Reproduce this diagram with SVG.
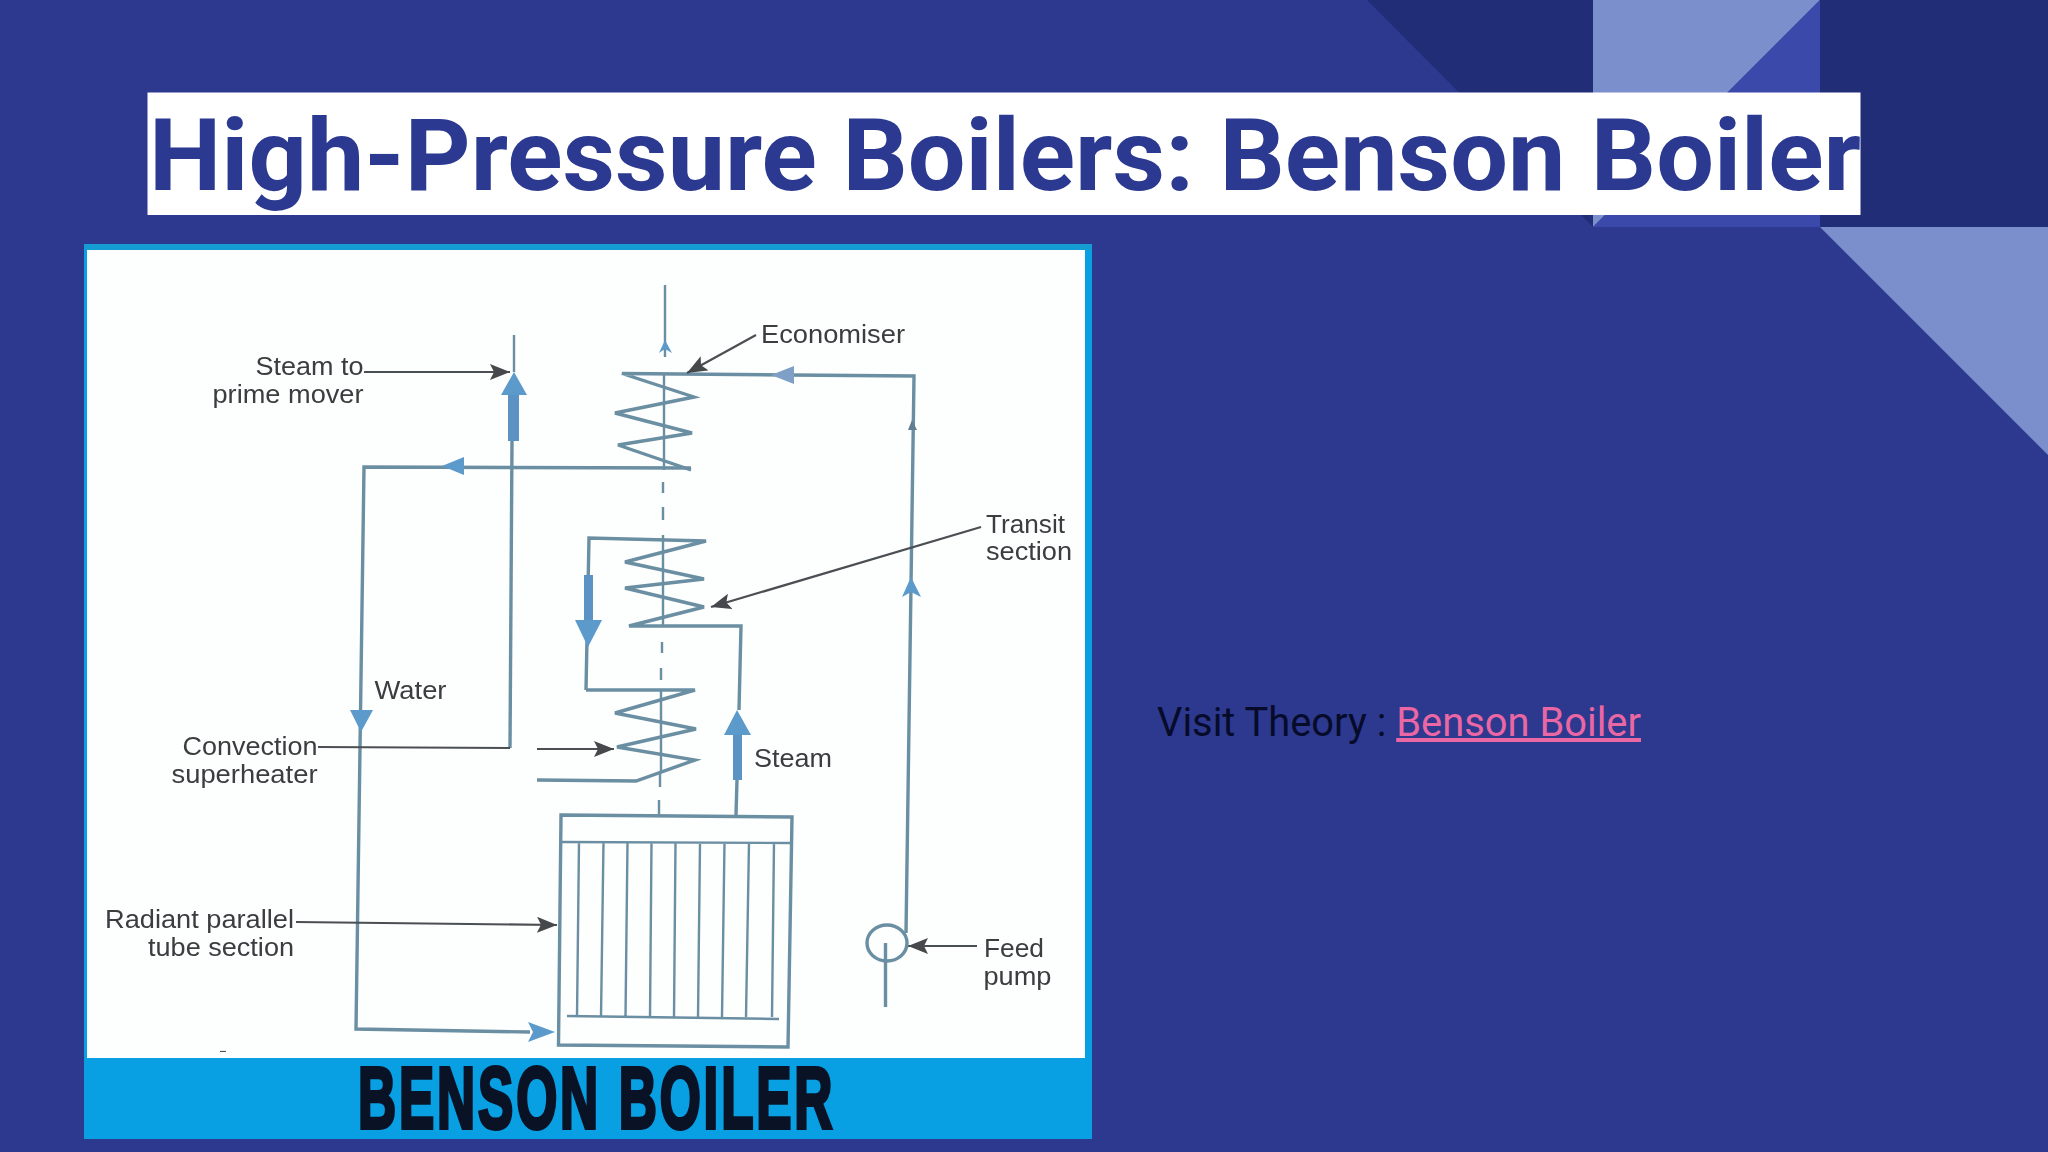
<svg xmlns="http://www.w3.org/2000/svg" width="2048" height="1152" viewBox="0 0 2048 1152">
<defs>
<style>
.pipe{fill:none;stroke:#6b8ea2;stroke-width:3.4;stroke-linejoin:miter}
.thin{fill:none;stroke:#6b8ea2;stroke-width:2.4}
.lead{fill:none;stroke:#4a4f52;stroke-width:2.2}
.blue{fill:#5b9acb;stroke:none}
.shaft{fill:#5a93c4;stroke:none}
.lab{font-family:"Liberation Sans",Arial,sans-serif;font-size:26px;fill:#3a3c3f}
.end{text-anchor:end}
</style>
<marker id="lh" markerUnits="userSpaceOnUse" markerWidth="24" markerHeight="18" refX="20" refY="8" orient="auto">
<path d="M0,0 L20,8 L0,16 L4,8 z" fill="#45494c"/>
</marker>
<filter id="soft" x="0" y="0" width="1" height="1"><feGaussianBlur stdDeviation="0.6"/></filter>
</defs>

<g id="background">
<rect width="2048" height="1152" fill="#2c398f"/>
<polygon points="1367,0 1593,0 1593,227" fill="#212e77"/>
<polygon points="1593,0 1820,0 1593,227" fill="#7a8fcb"/>
<polygon points="1820,0 1820,227 1593,227" fill="#3a49aa"/>
<rect x="1820" y="0" width="228" height="227" fill="#212e77"/>
<polygon points="1820,227 2048,227 2048,455" fill="#7a8fcb"/>
</g>

<g id="title">
<rect x="147.500" y="92.500" width="1713" height="122.500" fill="#ffffff"/>
<text x="149" y="189.500" textLength="1712" lengthAdjust="spacingAndGlyphs" style="font-family:Roboto,'Liberation Sans',sans-serif;font-weight:700;font-size:101px" fill="#2b3990">High-Pressure Boilers: Benson Boiler</text>
</g>

<g id="picture-frame">
<rect x="84" y="244" width="1008" height="895" fill="#08a0e3"/>
<rect x="84" y="244" width="1008" height="6" fill="#159cd2"/>
<rect x="87" y="250" width="998" height="808" fill="#fdfefe"/>
<text transform="translate(358,1128) scale(0.6,1)" style="font-family:'Liberation Sans',Arial,sans-serif;font-weight:700;font-size:88px;letter-spacing:4.8px" fill="#0a1226" stroke="#0a1226" stroke-width="4">BENSON BOILER</text>
</g>

<g filter="url(#soft)">
<g id="connectors">
<!-- centre line -->
<path class="thin" d="M665,285V357M664,373V470M663,482V493M663,507V520M663,535V626M662,642V653M661,668V680M661,690V772M660,773V787M659,800V815"/>
<polygon class="blue" points="665,340 672,353 665,349 659,353"/>
<!-- steam to prime mover -->
<path class="thin" d="M514,335V372"/>
<path class="pipe" d="M512,441L510,748"/>
<rect class="shaft" x="508" y="392" width="11" height="49"/>
<polygon class="blue" points="514,372 527,395 501,395"/>
<!-- economiser outflow to water downcomer to furnace -->
<path class="pipe" d="M691,470L618,445L692,433L615,413L694,397L622,373.500L914,376L906,933"/>
<path class="pipe" d="M691,468L364,467L356,1029L530,1032"/>
<polygon class="blue" points="442,466 464,457 464,475"/>
<polygon class="blue" points="361,732 350,710 373,710"/>
<polygon class="blue" points="555,1032 528,1022 533,1032 528,1042"/>
<polygon class="blue" points="771,375 794,366 794,384" style="fill:#7f9fc6"/>
<polygon class="blue" points="912,420 917,430 908,430" style="fill:#5f7f90"/>
<polygon class="blue" points="911,577 921,597 911,592 902,597"/>
<!-- transit section and steam line -->
<path class="pipe" d="M586,690L589,538L706,541L625,562L704,579L625,588L704,607L629,626L741,626L739,710"/>
<rect class="shaft" x="584" y="575" width="9" height="46"/>
<polygon class="blue" points="588,647 575,620 602,620"/>
<rect class="shaft" x="733" y="733" width="9" height="47"/>
<polygon class="blue" points="737,710 751,735 724,735"/>
<path class="pipe" d="M737,780L736,815"/>
<!-- convection superheater -->
<path class="pipe" d="M586,690L695,690L615,713L696,729L617,747L695,760L636,781L537,780"/>
<!-- feed pump -->
<path class="pipe" d="M885.500,943V1007"/>
<!-- leaders -->
<path class="lead" marker-end="url(#lh)" d="M364,372H510"/>
<path class="lead" marker-end="url(#lh)" d="M756,335L687,373"/>
<path class="lead" marker-end="url(#lh)" d="M981,527L711,607"/>
<path class="lead" d="M318,747L510,748"/>
<path class="lead" marker-end="url(#lh)" d="M537,749H614"/>
<path class="lead" marker-end="url(#lh)" d="M296,922L557,925"/>
<path class="lead" marker-end="url(#lh)" d="M977,946H908"/>
<path class="lead" d="M220,1052H226"/>
</g>

<g id="radiant-section">
<path class="pipe" d="M561,815L792,817L788,1047L558.500,1045Z"/>
<path class="thin" d="M562,842L791,843M567,1016L779,1019M579,842L577,1017M603.500,842L601,1017M627.500,842L625.500,1017M651.500,842L650,1017M675.500,842L674,1017M700,842L698,1017M724.500,842L722,1017M749,842L746,1017M774,842L772,1017"/>
</g>
<g id="feed-pump">
<ellipse cx="887" cy="943" rx="20" ry="18" class="pipe"/>
</g>

<g id="label-steam-to-prime-mover">
<text class="lab end" x="363.500" y="375" textLength="108" lengthAdjust="spacingAndGlyphs">Steam to</text>
<text class="lab end" x="363.500" y="403" textLength="151" lengthAdjust="spacingAndGlyphs">prime mover</text>
</g>
<g id="label-economiser"><text class="lab" x="761" y="343" textLength="144" lengthAdjust="spacingAndGlyphs">Economiser</text></g>
<g id="label-transit-section">
<text class="lab" x="986" y="533" textLength="79" lengthAdjust="spacingAndGlyphs">Transit</text>
<text class="lab" x="986" y="560" textLength="86" lengthAdjust="spacingAndGlyphs">section</text>
</g>
<g id="label-water"><text class="lab" x="374.500" y="699" textLength="72" lengthAdjust="spacingAndGlyphs">Water</text></g>
<g id="label-convection-superheater">
<text class="lab end" x="317.500" y="755" textLength="135" lengthAdjust="spacingAndGlyphs">Convection</text>
<text class="lab end" x="317.500" y="783" textLength="146" lengthAdjust="spacingAndGlyphs">superheater</text>
</g>
<g id="label-steam"><text class="lab" x="754" y="767" textLength="78" lengthAdjust="spacingAndGlyphs">Steam</text></g>
<g id="label-radiant">
<text class="lab end" x="294" y="928" textLength="189" lengthAdjust="spacingAndGlyphs">Radiant parallel</text>
<text class="lab end" x="294" y="956" textLength="146" lengthAdjust="spacingAndGlyphs">tube section</text>
</g>
<g id="label-feed-pump">
<text class="lab" x="984" y="957" textLength="60" lengthAdjust="spacingAndGlyphs">Feed</text>
<text class="lab" x="983.500" y="985" textLength="68" lengthAdjust="spacingAndGlyphs">pump</text>
</g>
</g>

<g id="visit-theory">
<text x="1157" y="736" style="font-family:Roboto,'Liberation Sans',sans-serif;font-size:40px" fill="#070b2a" textLength="484" lengthAdjust="spacingAndGlyphs">Visit Theory : <tspan fill="#ea67a3" text-decoration="underline">Benson Boiler</tspan></text>
</g>
</svg>
